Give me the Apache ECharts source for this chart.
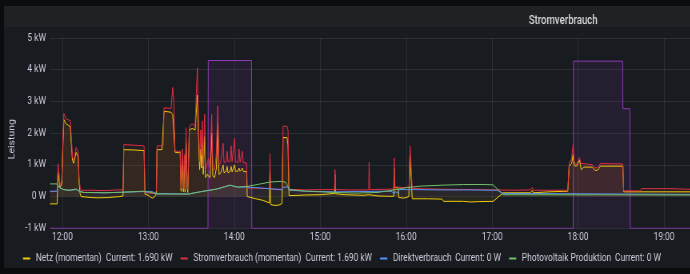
<!DOCTYPE html>
<html><head><meta charset="utf-8">
<script src="https://cdn.jsdelivr.net/npm/echarts@6/dist/echarts.min.js"></script>
<style>
html,body{margin:0;padding:0;background:#0b0c0e;overflow:hidden;width:690px;height:274px;}
#wrap{width:690px;height:274px;overflow:hidden;}
#chart{width:862.5px;height:274px;transform:scaleX(0.8);transform-origin:0 0;}
</style></head><body><div id="wrap"><div id="chart"></div></div>
<script>
// time in minutes since midnight, values in kW
const titleText = 'Stromverbrauch';
const hourTicks = [720, 780, 840, 900, 960, 1020, 1080, 1140];
const xMin = 711.3, xMax = 1158.4;
const legendNames = ['Netz (momentan)', 'Stromverbrauch (momentan)', 'Direktverbrauch', 'Photovoltaik Produktion'];
const currents = ['1.690 kW', '1.690 kW', '0 W', '0 W'];

const strom = [
[711.3,0.15],[716.3,0.17],[716.9,1.04],[717.5,0.8],[718.3,0.35],[719.5,0.5],[720.3,1.8],[721.0,2.62],[721.8,2.55],[722.5,2.45],[724,2.42],[725.5,2.4],[726.3,1.8],[727,1.25],[727.8,1.12],[728.6,1.3],[729.5,1.55],[730.3,1.58],[731,1.4],[731.6,0.6],[732.3,0.3],[733,0.2],[740,0.2],[750,0.19],[762.3,0.22],[762.8,1.64],[770,1.62],[777,1.6],
[777.6,0.15],[779.7,0.12],[782,0.1],[785,0.12],[785.6,0.2],[786.0,1.6],[790.3,1.6],[790.9,2.8],[795.8,2.78],[797.0,3.44],[797.8,3.0],[798.6,1.43],[802.2,1.43],[802.8,0.27],[803.7,1.5],[804.4,0.25],[805.1,1.32],[805.6,0.24],[806.3,2.17],[807.0,0.4],[807.5,0.23],[808.6,2.22],[810.5,2.3],[812.6,2.22],[813.5,3.3],[814.2,4.06],[814.9,2.5],[815.3,1.85],[815.8,1.1],[816.5,2.1],[817.1,1.3],[817.7,2.38],[818.3,0.95],[819.3,2.6],[819.9,0.84],[821,0.9],[822,1.2],[823.0,0.85],[824.2,2.59],[825,0.9],[826.2,0.84],[827.5,1.4],[828.4,2.85],[829.3,1.0],[830.5,1.1],[831.5,1.1],[832.2,1.68],[832.8,1.08],[834.3,1.1],[835,1.43],[835.6,1.1],[837,1.12],[837.8,1.6],[838.4,1.1],[839.5,1.1],[840.2,1.84],[840.8,1.1],[842.5,1.08],[843.3,1.5],[844,1.08],[845.6,1.43],[846.2,1.07],[848.6,1.06],
[849.0,0.27],[855,0.27],[864.5,0.25],[864.9,1.36],[865.3,0.24],[873.3,0.23],[874.0,2.22],[876.8,2.22],[877.5,2.1],[878.2,0.23],[890,0.21],[900,0.22],[910,0.22],[910.3,0.85],[910.7,0.22],[920,0.21],[933.8,0.21],[934.1,1.08],[934.5,0.22],[945,0.23],[951.3,0.24],[951.6,1.22],[952.0,0.3],[954.4,0.3],[958,0.28],[962.0,0.3],[962.7,1.6],[963.4,1.55],[964.2,0.26],[975,0.24],[990,0.23],[1010,0.22],[1023.5,0.21],[1035,0.2],[1046.6,0.21],[1048,0.29],[1049,0.2],[1060,0.2],[1072.8,0.2],[1073.8,1.06],[1075.5,1.2],[1076.5,1.64],[1077.3,1.1],[1078.7,1.0],[1080,1.15],[1081,1.23],[1082,1.05],[1083,1.0],[1089.9,1.0],[1092,0.9],[1094.1,0.93],[1095.5,1.04],[1110,1.03],[1111.3,1.02],[1111.8,0.18],[1123.5,0.18],[1124.2,0.25],[1145,0.25],[1158.4,0.23]
];

const netz = [
[711.3,-0.23],[716.3,-0.23],[716.9,0.76],[717.5,0.6],[718.3,0.28],[719.5,0.4],[720.3,1.6],[721.0,2.43],[721.8,2.38],[722.5,2.3],[724,2.25],[725.5,2.2],[726.3,1.6],[727,1.15],[727.8,1.05],[728.6,1.2],[729.5,1.4],[730.3,1.43],[731,1.25],[731.6,0.45],[732.3,0.1],[733,0.0],[740,-0.03],[745,-0.04],[752,-0.03],[760,0.0],[762.3,0.02],[762.8,1.48],[770,1.47],[777,1.45],
[777.6,0.08],[779.7,0.05],[781.5,-0.02],[783,-0.05],[784.5,0.0],[785.6,0.1],[786.0,1.48],[789.5,1.48],[790.3,1.42],[790.9,2.69],[795.8,2.66],[797.0,2.59],[797.8,2.6],[798.6,1.4],[800.5,1.38],[802.2,1.4],[802.8,0.17],[803.7,1.2],[804.4,0.15],[805.1,1.0],[805.6,0.14],[806.3,1.7],[807.0,0.3],[807.5,0.13],[808.6,2.1],[810.5,2.15],[812.6,2.1],[813.5,2.7],[814.2,3.2],[814.9,2.1],[815.3,1.4],[815.8,0.85],[816.5,1.5],[817.1,0.9],[817.7,1.7],[818.3,0.7],[819.3,1.9],[819.9,0.6],[821,0.7],[822,0.65],[823.0,0.6],[824.2,2.0],[825,0.65],[826.2,0.6],[827.5,0.9],[828.4,2.3],[829.3,0.7],[830.5,0.75],[831.5,0.7],[832.2,1.0],[832.8,0.75],[834.3,0.8],[835,0.95],[835.6,0.75],[837,0.8],[837.8,0.95],[838.4,0.78],[839.5,0.8],[840.2,1.0],[840.8,0.8],[842.5,0.8],[843.3,0.9],[844,0.8],[845.6,0.9],[846.2,0.8],[848.6,0.78],
[849.0,0.0],[855,-0.07],[860,-0.12],[864.5,-0.2],[864.9,0.8],[865.3,-0.25],[868,-0.28],[871,-0.27],[873.3,-0.22],[874.0,1.86],[876.8,1.86],[877.5,1.6],[878.2,0.03],[890,0.05],[900,0.06],[910,0.1],[910.3,0.7],[910.7,0.09],[917,0.06],[930,0.04],[934.1,0.06],[940,0.02],[947.5,0.01],[951.3,0.01],[951.6,0.9],[952.0,0.28],[954.4,0.28],[954.8,-0.03],[958.5,-0.05],[959,0.0],[961.8,0.0],[962.7,1.32],[963.4,1.3],[964.2,-0.07],[975,-0.07],[985,-0.08],[986,-0.15],[1000,-0.15],[1005,-0.17],[1010,-0.16],[1020.7,-0.15],[1027.7,0.12],[1046.6,0.12],[1048,0.2],[1048.7,0.12],[1060,0.15],[1072.8,0.17],[1073.8,0.95],[1075.5,1.05],[1076.5,1.32],[1077.3,1.0],[1078.7,0.95],[1080,1.05],[1081,1.15],[1082.2,0.85],[1084,0.93],[1089.9,0.93],[1092,0.82],[1094.1,0.85],[1095.5,0.96],[1110,0.96],[1111.3,0.95],[1111.8,0.15],[1158.4,0.15]
];

const direkt = [
[711.3,0.17],[716.3,0.17],[716.9,0.35],[718.3,0.27],[721,0.22],[725,0.2],[730,0.22],[732,0.16],[735,0.13],[750,0.12],[763,0.14],[777,0.16],[779,0.14],[781.5,0.17],[783,0.15],[785,0.1],[786,0.08],[808,0.08],[816,0.15],[828,0.24],[837,0.36],[842,0.3],[848.9,0.3],[849.3,0.25],[864.5,0.25],[865.6,0.21],[873.3,0.21],[874,0.3],[877.5,0.3],[878.2,0.2],[890,0.17],[910,0.15],[930,0.16],[945,0.17],[950,0.16],[951.5,0.08],[952.3,0.16],[954.4,0.1],[955,0.22],[965,0.22],[985,0.21],[1000,0.21],[1001,0.26],[1002,0.21],[1020.7,0.2],[1023.5,0.2],[1027.7,0.1],[1158.4,0.07]
];

const pv = [
[711.3,0.4],[716.3,0.4],[718.3,0.27],[721,0.22],[725,0.2],[729.5,0.24],[732,0.16],[735,0.13],[750,0.12],[763,0.14],[777,0.17],[780,0.15],[786,0.08],[808,0.08],[816,0.15],[828,0.24],[837,0.36],[842,0.3],[849,0.32],[856,0.38],[865,0.46],[873,0.48],[876,0.45],[878.5,0.22],[890,0.17],[910,0.13],[925,0.11],[940,0.13],[950,0.2],[960,0.28],[970,0.33],[985,0.36],[1000,0.38],[1015,0.38],[1020.7,0.37],[1027.7,0.06],[1158.4,0.05]
];

const extra = [
[711.3,-1],[821.6,-1],[821.8,4.29],[852.0,4.29],[852.2,-1],[1076.6,-1],[1076.8,4.27],[1111.1,4.27],[1111.3,2.77],[1116.2,2.77],[1116.4,-1],[1158.4,-1]
];

const C = {netz:'#F2CC0C', strom:'#E02F44', direkt:'#5794F2', pv:'#73BF69', extra:'#8F3BB8'};
const txt = '#ccccdc';
const font = 'Roboto, "Noto Sans", sans-serif';
const pad2 = n => (n < 10 ? '0' : '') + n;
const fmtTime = v => pad2(Math.floor(v / 60)) + ':' + pad2(Math.round(v % 60));

function line(name, data, color, alpha, extraOpt) {
  return Object.assign({
    type: 'line', name, data, color, showSymbol: false, symbol: 'none', silent: true,
    lineStyle: { width: 1, color },
    areaStyle: { color: echarts.color.modifyAlpha(color, alpha), origin: 'auto' }
  }, extraOpt || {});
}

const nW = [87.75, 140.25, 77.75, 116.5];
const cW = [85, 85, 58.75, 62];
const rich = {};
nW.forEach((w, i) => {
  rich['n' + i] = { width: w, padding: [0, 0, 0, 2], color: txt, fontSize: 10.5, fontFamily: font };
  rich['c' + i] = { width: cW[i], color: txt, fontSize: 10.5, fontFamily: font };
});

const chart = echarts.init(document.getElementById('chart'), null, { renderer: 'canvas' });
chart.setOption({
  backgroundColor: '#181b1f',
  animation: false,
  textStyle: { fontFamily: font },
  title: {
    text: titleText, left: 699, top: 10, textAlign: 'center',
    textStyle: { color: '#d8d9da', fontSize: 12, fontWeight: 500, fontFamily: font }
  },
  graphic: [
    { type: 'rect', shape: { x: 0, y: 0, width: 900, height: 6 }, style: { fill: '#0b0c0e' }, silent: true },
    { type: 'rect', shape: { x: 0, y: 0, width: 5, height: 274 }, style: { fill: '#0b0c0e' }, silent: true },
    { type: 'rect', shape: { x: 0, y: 268, width: 900, height: 6 }, style: { fill: '#0b0c0e' }, silent: true },
    { type: 'rect', shape: { x: 5, y: 6, width: 900, height: 21 }, style: { fill: '#1f2125' }, silent: true, z: -1 }
  ],
  legend: {
    data: legendNames, left: 23.75, top: 248, itemWidth: 9, itemHeight: 2, itemGap: 10, icon: 'rect',
    textStyle: { color: txt, fontSize: 10.5, rich },
    formatter: name => { const i = legendNames.indexOf(name); return '{n' + i + '|' + name + '}{c' + i + '|Current: ' + currents[i] + '}'; }
  },
  grid: { left: 62.5, right: 0, top: 38, height: 190.3, containLabel: false },
  xAxis: {
    type: 'value', min: xMin, max: xMax,
    axisLine: { show: false }, axisTick: { show: false, customValues: hourTicks },
    axisLabel: { customValues: hourTicks, formatter: fmtTime, color: txt, fontSize: 10.5, margin: 4 },
    splitLine: { show: true, lineStyle: { color: 'rgba(204,204,220,0.11)', width: 1 } }
  },
  yAxis: {
    type: 'value', min: -1, max: 5, interval: 1,
    name: 'Leistung', nameLocation: 'middle', nameGap: 30, nameRotate: 90,
    nameTextStyle: { color: txt, fontSize: 10.5, padding: [0, 12, 0, 0] },
    axisLine: { show: false }, axisTick: { show: false },
    axisLabel: { color: txt, fontSize: 10.5, margin: 5, formatter: v => (v === 0 ? '0 W' : v + ' kW') },
    splitLine: { lineStyle: { color: 'rgba(204,204,220,0.11)', width: 1 } }
  },
  series: [
    line('Sonstiges', extra, C.extra, 0.16, { areaStyle: { color: echarts.color.modifyAlpha(C.extra, 0.16), origin: 'start' } }),
    line(legendNames[0], netz, C.netz, 0.1),
    line(legendNames[1], strom, C.strom, 0.1),
    line(legendNames[2], direkt, C.direkt, 0.06),
    line(legendNames[3], pv, C.pv, 0.06)
  ]
});
</script></body></html>
